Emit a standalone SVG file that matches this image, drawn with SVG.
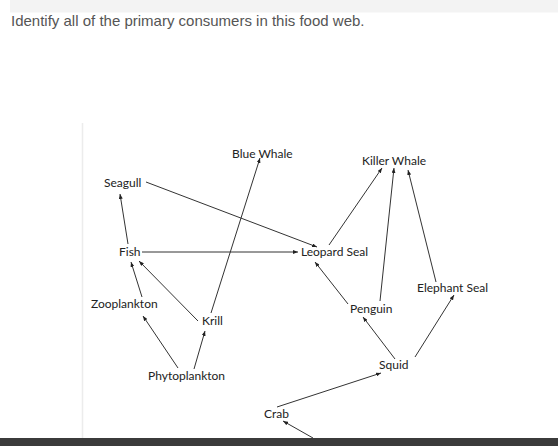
<svg xmlns="http://www.w3.org/2000/svg" width="558" height="446" viewBox="0 0 558 446">
<defs>
<marker id="ah" viewBox="0 0 10 8" refX="10" refY="4" markerWidth="5" markerHeight="4" markerUnits="userSpaceOnUse" orient="auto">
<path d="M0,0 L10,4 L0,8 Z" fill="#222"/>
</marker>
<style>
.t{font-family:Lato,"Open Sans",sans-serif;font-size:12px;fill:#222}
.c line{stroke:#333;stroke-width:1;marker-end:url(#ah)}
</style>
</defs>
<rect width="558" height="446" fill="#fff"/>
<rect x="10" y="0" width="548" height="12.5" fill="#f3f3f3"/>
<text x="11" y="26" style="font-family:'Liberation Sans',Arial,sans-serif;font-size:15px;fill:#555">Identify all of the primary consumers in this food web.</text>
<line x1="82.5" y1="123" x2="82.5" y2="438" stroke="#ececec" stroke-width="1.5"/>
<g class="c" id="connectors">
<line x1="146" y1="182" x2="317" y2="247"/>
<line x1="128" y1="244" x2="120" y2="194"/>
<line x1="142" y1="252" x2="298" y2="252"/>
<line x1="211" y1="313" x2="260" y2="158"/>
<line x1="329" y1="245" x2="382" y2="168"/>
<line x1="380" y1="301" x2="394" y2="168"/>
<line x1="436" y1="282" x2="408" y2="170"/>
<line x1="348" y1="304" x2="315" y2="262"/>
<line x1="395" y1="359" x2="363" y2="317"/>
<line x1="415" y1="357" x2="454" y2="295"/>
<line x1="277" y1="407" x2="381" y2="373"/>
<line x1="313" y1="438" x2="283" y2="421"/>
<line x1="142" y1="297" x2="131" y2="262"/>
<line x1="198" y1="321" x2="139" y2="261"/>
<line x1="178" y1="368" x2="143" y2="316"/>
<line x1="194" y1="369" x2="205" y2="331"/>
</g>
<g id="blue-whale"><text class="t" x="232" y="158">Blue Whale</text></g>
<g id="seagull"><text class="t" x="104" y="187">Seagull</text></g>
<g id="fish"><text class="t" x="119" y="256">Fish</text></g>
<g id="leopard-seal"><text class="t" x="301" y="256">Leopard Seal</text></g>
<g id="killer-whale"><text class="t" x="362" y="165">Killer Whale</text></g>
<g id="zooplankton"><text class="t" x="91" y="308">Zooplankton</text></g>
<g id="krill"><text class="t" x="202" y="325">Krill</text></g>
<g id="phytoplankton"><text class="t" x="148" y="380">Phytoplankton</text></g>
<g id="crab"><text class="t" x="264" y="418">Crab</text></g>
<g id="penguin"><text class="t" x="350" y="313">Penguin</text></g>
<g id="elephant-seal"><text class="t" x="417" y="292">Elephant Seal</text></g>
<g id="squid"><text class="t" x="379" y="369">Squid</text></g>
<rect x="0" y="438" width="558" height="8" fill="#3b3b3b"/>
</svg>
